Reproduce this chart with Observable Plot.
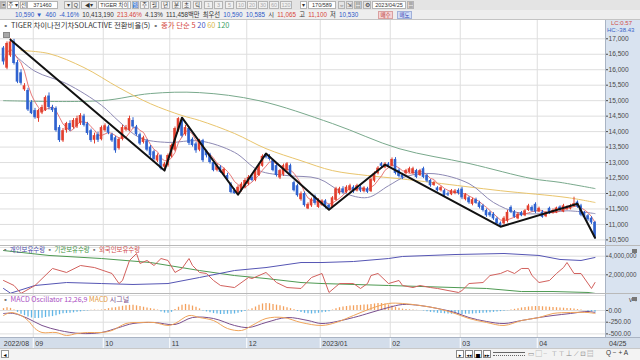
<!DOCTYPE html>
<html>
<head>
<meta charset="utf-8">
<script src="https://cdn.jsdelivr.net/npm/d3@7"></script>
<script src="https://cdn.jsdelivr.net/npm/@observablehq/plot@0.6"></script>
<style>
html,body{margin:0;padding:0;background:#fff;}
#wrap{position:relative;width:640px;height:360px;overflow:hidden;font-family:"Noto Sans CJK KR","DejaVu Sans",sans-serif;}
.abs{position:absolute;white-space:nowrap;line-height:1;}
.bx{position:absolute;top:1px;height:8px;box-sizing:border-box;border:1px solid #b4b4b4;font-size:5.5px;line-height:6px;text-align:center;color:#333;background:#f4f4f4;overflow:hidden;white-space:nowrap;font-family:"Liberation Sans","Noto Sans CJK KR",sans-serif;}
.r2{display:flex;gap:3.2px;font-family:"Liberation Sans","Noto Sans CJK KR",sans-serif;font-size:6.3px;}
svg{display:block;}
</style>
</head>
<body>
<div id="wrap"></div>
<script>
// ---------------- data ----------------
const monthStart = [0, 9, 29, 48, 70, 91, 111, 131, 153];
const monthLabel = ["2022/08", "09", "10", "11", "12", "2023/01", "02", "03", "04"];
const priceTicks = [10500, 11000, 11500, 12000, 12500, 13000, 13500, 14000, 14500, 15000, 15500, 16000, 16500, 17000];
const holdTicks = [2000000, 4000000];
const macdTicks = [0, -250, -500];

const openP = [16700,16050,16450,16900,16230,15900,15350,15330,14940,14680,14420,14600,14680,15150,14780,14750,14130,13700,14030,14260,
14130,14150,14260,14500,14250,14030,13720,13900,13740,14030,14150,13900,13800,13450,13750,14050,14030,14360,14150,13900,
13650,13700,13500,13350,13050,13220,12850,12900,13200,13400,14030,14360,13900,14100,13750,13600,13400,13710,13380,13250,
13000,12750,12850,12600,12580,12300,12090,11990,12100,12200,12300,12520,12420,12580,12880,13260,13200,13060,12900,12500,
12600,12740,12900,12350,12250,11800,12000,11500,11600,11900,11550,11620,11760,11620,11550,11780,12000,12150,12030,12100,
12200,12080,12200,12060,12150,12060,12400,12640,12960,12830,12950,12880,13100,12750,12600,12640,12680,12640,12740,12580,
12800,12580,12420,12260,12180,12090,12090,11990,11960,12000,12100,12140,11800,11860,11650,11800,11700,11600,11450,11380,
11330,11180,11040,11020,11100,11550,11400,11180,11380,11280,11450,11550,11650,11400,11400,11250,11520,11360,11380,11560,
11400,11480,11500,11580,11720,11600,11380,11280,11200,11065];
const highP = [16750,16900,17000,16980,16300,16000,15550,15400,15000,14750,14720,14850,15150,15250,14850,14800,14200,14100,14300,14350,
14420,14500,14580,14560,14300,14080,13950,13980,14180,14250,14200,13950,13850,13800,14200,14200,14500,14450,14200,13950,
13850,13750,13550,13400,13280,13250,13000,13280,13600,14150,14450,14450,14200,14150,13800,13650,13750,13750,13400,13300,
13050,12950,12900,12820,12650,12350,12150,12250,12350,12480,12580,12600,12800,12950,13250,13290,13260,13100,12950,12780,
12950,13000,12950,12400,12300,12050,12050,11700,11850,11950,11830,11800,11800,11650,11900,12200,12200,12220,12250,12300,
12250,12300,12250,12220,12200,12500,12700,12870,13000,13000,13000,13150,13160,12800,12650,12780,12850,12850,12780,12780,
12850,12620,12450,12400,12220,12230,12130,12050,12130,12130,12150,12200,12000,11900,11850,11850,11750,11650,11500,11420,
11380,11230,11080,11250,11450,11600,11450,11380,11420,11480,11650,11600,11700,11560,11450,11420,11560,11500,11560,11600,
11650,11600,11650,11880,11760,11650,11420,11320,11250,11100];
const lowP = [16150,16000,16400,16150,15550,15500,15300,14650,14550,14400,14300,14550,14650,14700,14620,13980,13650,13650,13950,14000,
14080,14100,14200,14150,13880,13650,13600,13650,13700,13980,13900,13650,13300,13400,13700,14000,14000,14100,13850,13550,
13600,13350,13150,13050,13000,12750,12740,12850,13150,13350,13980,13800,13850,13550,13500,13300,13350,13000,13150,12950,
12700,12700,12650,12550,12400,11990,11980,11960,12050,12150,12250,12380,12380,12550,12850,13120,13050,12700,12530,12450,
12550,12700,12530,12050,11880,11750,11560,11480,11550,11620,11520,11580,11500,11476,11520,11750,11950,11980,12000,12050,
12000,12050,12030,12020,12000,12030,12350,12600,12830,12800,12850,12850,12600,12500,12450,12600,12650,12600,12480,12550,
12480,12350,12200,12230,12050,12050,11900,11900,11930,11960,11950,11800,11760,11650,11600,11650,11500,11400,11230,11230,
11130,10980,10926,10980,11050,11350,11200,11150,11250,11250,11420,11400,11350,11380,11200,11220,11320,11330,11350,11420,
11380,11450,11470,11550,11520,11250,11180,11100,11000,10530];
const closeP = [16250,16850,16900,16200,15600,15560,15480,14700,14580,14450,14680,14780,15100,14780,14680,14030,13710,14030,14260,14050,
14360,14420,14520,14200,13940,13710,13870,13720,14130,14190,13950,13700,13380,13750,14130,14130,14420,14150,13900,13600,
13800,13400,13220,13100,13220,12800,12950,13230,13550,14100,14420,13850,14130,13620,13550,13380,13700,13060,13220,13000,
12740,12900,12680,12780,12450,12030,11990,12200,12300,12420,12520,12420,12740,12900,13200,13160,13100,12740,12580,12740,
12900,12960,12580,12090,11930,11990,11610,11650,11800,11680,11780,11760,11550,11520,11860,12150,12150,12030,12200,12250,
12050,12250,12080,12180,12040,12450,12650,12820,12880,12950,12880,13100,12650,12550,12500,12740,12800,12800,12520,12740,
12520,12400,12250,12350,12090,12190,11930,11950,12090,12080,12000,11860,11960,11700,11800,11680,11550,11450,11280,11280,
11180,11020,10960,11200,11390,11390,11230,11330,11280,11440,11600,11430,11400,11520,11230,11380,11360,11450,11530,11450,
11600,11560,11600,11670,11560,11300,11220,11150,11050,10590];

// zigzag pivots [candle index, price]
const zigzag = [[2,16970],[46,12740],[51,14450],[67,11960],[75,13290],[93,11476],[109,12930],[142,10926],[164,11670],[169,10570]];
// moving averages [candle index, price]
const ma20 = [[3,16500],[9,15950],[18,15550],[28,14850],[33,14330],[39,13800],[47,13650],[56,13700],[66,13330],[73,12740],[81,12580],[90,12480],[97,12030],[104,11870],[110,12250],[115,12550],[123,12640],[133,12320],[140,11710],[147,11380],[154,11350],[161,11440],[169,11350]];
const ma60 = [[5,16620],[13,16520],[23,16070],[33,15420],[42,14900],[51,14520],[56,14360],[66,13940],[75,13450],[85,13060],[94,12740],[104,12580],[113,12480],[123,12350],[142,12090],[161,11870],[169,11710]];
const ma120 = [[0,15000],[28,15000],[42,15230],[56,15260],[73,15000],[94,14260],[113,13450],[133,12970],[151,12480],[159,12360],[169,12160]];

// holdings (shares) [candle index, value]
const indiv = [[0,530000],[2,20000],[9,850000],[18,1170000],[28,1060000],[37,960000],[47,1060000],[56,1710000],[66,2460000],[75,2780000],[85,3320000],[91,3320000],[100,3430000],[110,3750000],[114,3970000],[129,4180000],[143,4290000],[153,4080000],[159,3650000],[165,3540000],[169,3860000]];
const inst = [[0,4610000],[13,4080000],[28,3750000],[42,3320000],[56,2460000],[66,1920000],[75,1600000],[85,1170000],[91,1060000],[110,850000],[129,630000],[138,530000],[148,200000],[157,200000],[167,100000],[169,0]];
const foreign = [[0,1390000],[3,850000],[5,0],[9,850000],[14,2680000],[18,2250000],[22,3000000],[26,2780000],[31,2140000],[33,1060000],[34,1390000],[36,3540000],[38,4290000],[39,3220000],[41,3540000],[43,3000000],[45,3750000],[47,3540000],[49,2250000],[51,2680000],[53,3750000],[54,3000000],[56,2250000],[58,2140000],[60,1390000],[62,850000],[66,630000],[70,1710000],[71,1600000],[75,2250000],[78,1170000],[81,630000],[85,530000],[88,1710000],[91,2140000],[93,100000],[96,1060000],[100,1060000],[102,530000],[104,1060000],[105,1920000],[107,2140000],[110,1060000],[113,1390000],[114,850000],[117,630000],[119,850000],[122,630000],[124,530000],[127,310000],[130,100000],[131,310000],[133,1060000],[137,1170000],[139,1920000],[142,2140000],[144,2460000],[146,2140000],[148,2680000],[150,2680000],[151,1920000],[153,1170000],[156,1390000],[158,2140000],[160,2780000],[161,3320000],[163,2140000],[165,2140000],[168,530000],[169,1170000]];

// MACD 12,26,9
const macdLine = [[0,-107],[2,-43],[5,-107],[7,-214],[9,-385],[11,-470],[15,-470],[18,-534],[21,-491],[24,-470],[28,-470],[31,-427],[35,-278],[39,-256],[43,-256],[47,-320],[49,-278],[53,-107],[56,-150],[60,-214],[64,-385],[68,-427],[71,-320],[75,-171],[80,-150],[85,-256],[91,-320],[95,-256],[100,-107],[105,43],[110,150],[114,150],[119,107],[124,43],[129,-64],[133,-171],[138,-256],[143,-320],[148,-214],[153,-150],[157,-64],[162,-43],[167,-43],[169,-64]];
const signalLine = [[0,-64],[3,-64],[7,-171],[11,-320],[16,-427],[22,-491],[28,-470],[33,-363],[37,-278],[43,-256],[49,-299],[54,-150],[60,-171],[66,-320],[70,-363],[75,-256],[81,-150],[87,-214],[91,-278],[100,-150],[105,-43],[110,64],[114,128],[119,107],[124,43],[129,-43],[133,-150],[138,-235],[143,-278],[148,-214],[153,-150],[157,-107],[162,-64],[167,-21],[169,-43]];
const oscVal = [40,60,45,10,-40,-80,-110,-140,-160,-170,-170,-165,-150,-140,-130,-110,-90,-70,-65,-60,
-50,-40,-30,-15,-10,5,10,5,10,20,40,55,60,75,90,100,110,110,100,85,
70,55,40,25,10,-30,-55,-60,-40,20,70,110,130,120,95,70,35,-10,-30,-50,
-65,-75,-85,-85,-80,-80,-75,-60,-40,-20,10,40,75,110,140,150,145,130,115,100,
80,60,40,15,-20,-45,-60,-70,-75,-70,-60,-50,-40,-25,10,40,60,75,85,95,
100,105,110,115,120,130,140,150,150,140,120,95,70,50,30,20,15,10,5,0,
-10,-25,-40,-50,-60,-65,-70,-75,-80,-80,-85,-85,-80,-80,-75,-70,-65,-60,-55,-50,
-40,-30,-25,-15,-5,10,25,40,55,65,75,80,85,85,80,75,70,65,60,55,
50,45,40,30,20,10,0,-15,-30,-40];

// header quote texts
const quoteTexts = [["10,590 ▼","#2f5bc8"],["460","#2f5bc8"],["-4.16%","#2f5bc8"],["10,413,190","#333"],["213.46%","#d8463c"],["4.13%","#333"],["111,458백만","#333"],["최우선","#333"],["10,590","#2f5bc8"],["10,585","#2f5bc8"],["시","#333"],["11,065","#d8463c"],["고","#333"],["11,100","#d8463c"],["저","#333"],["10,530","#2f5bc8"]];

// ---------------- build ----------------
const FONT = '"Noto Sans CJK KR","DejaVu Sans",sans-serif';
const AXFONT = '"Liberation Sans","DejaVu Sans",sans-serif';
const RED = "#e2402f", BLUE = "#2f62cf";
const XD = [-0.86, 172];
const candles = closeP.map((c, i) => ({i, o: openP[i], h: highP[i], l: lowP[i], c}));
const up = candles.filter(d => d.c >= d.o), down = candles.filter(d => d.c < d.o);
const osc = oscVal.map((v, i) => ({i, v}));
const wrap = document.getElementById("wrap");
function add(html, css, cls) {
  const d = document.createElement("div");
  d.className = cls || "abs";
  d.style.cssText = css;
  d.innerHTML = html;
  wrap.appendChild(d);
  return d;
}
const base = {width: 640, marginLeft: 0, marginRight: 35, marginTop: 0, marginBottom: 0,
  style: {background: "transparent", fontFamily: AXFONT, overflow: "visible"}};
const vgrid = Plot.ruleX(monthStart.slice(1), {x: d => d - 0.5, stroke: "#dedede"});
const axisOpt = {anchor: "right", tickSize: 2, tickPadding: 1, fontSize: 6.6, color: "#4a4a4a"};

// right axis background
add("", "left:605px;top:20px;width:35px;height:328px;background:#d9e3f0;border-left:1px solid #a9b4c4;");

// main price panel
const mainPlot = Plot.plot({...base, height: 226,
  x: {domain: XD, axis: null},
  y: {domain: [10287, 17591], axis: null},
  marks: [
    Plot.ruleY(priceTicks, {stroke: "#dedede"}),
    vgrid,
    Plot.line(ma120, {curve: "catmull-rom", stroke: "#79a98c", strokeWidth: 1}),
    Plot.line(ma60, {curve: "catmull-rom", stroke: "#e9c56d", strokeWidth: 1}),
    Plot.line(ma20, {curve: "catmull-rom", stroke: "#8d89b4", strokeWidth: 1}),
    Plot.lineY(candles, Plot.windowY({k: 5, anchor: "end"}, {x: "i", y: "c", stroke: "#e46a6a", strokeWidth: 0.9})),
    Plot.ruleX(up, {x: "i", y1: "l", y2: "h", stroke: RED}),
    Plot.ruleX(down, {x: "i", y1: "l", y2: "h", stroke: BLUE}),
    Plot.rect(up, {x1: d => d.i - 0.37, x2: d => d.i + 0.37, y1: "o", y2: "c", fill: RED}),
    Plot.rect(down, {x1: d => d.i - 0.37, x2: d => d.i + 0.37, y1: "o", y2: "c", fill: BLUE}),
    Plot.line(zigzag, {stroke: "#111", strokeWidth: 2}),
    Plot.axisY(priceTicks, {...axisOpt, tickFormat: d3.format(",")})
  ]
});
mainPlot.style.position = "absolute"; mainPlot.style.left = "0px"; mainPlot.style.top = "20px";
wrap.appendChild(mainPlot);

// holdings panel
const holdPlot = Plot.plot({...base, height: 48,
  x: {domain: XD, axis: null},
  y: {domain: [-118000, 5043000], axis: null},
  marks: [
    Plot.ruleY(holdTicks, {stroke: "#dedede"}),
    vgrid,
    Plot.line(inst, {stroke: "#4e9a52", strokeWidth: 1}),
    Plot.line(indiv, {stroke: "#5656b4", strokeWidth: 1}),
    Plot.line(foreign, {stroke: "#d2615d", strokeWidth: 1}),
    Plot.axisY(holdTicks, {...axisOpt, fontSize: 6.3, tickFormat: d3.format(",")})
  ]
});
holdPlot.style.position = "absolute"; holdPlot.style.left = "0px"; holdPlot.style.top = "246px";
wrap.appendChild(holdPlot);

// MACD panel
const macdPlot = Plot.plot({...base, height: 43,
  x: {domain: XD, axis: null},
  y: {domain: [-577, 342], axis: null},
  marks: [
    Plot.ruleY(macdTicks, {stroke: "#dedede"}),
    vgrid,
    Plot.ruleX(osc.filter(d => d.v >= 0), {x: "i", y1: 0, y2: "v", stroke: "#f3a15e", strokeWidth: 1.3}),
    Plot.ruleX(osc.filter(d => d.v < 0), {x: "i", y1: 0, y2: "v", stroke: "#62b6e6", strokeWidth: 1.3}),
    Plot.line(signalLine, {curve: "catmull-rom", stroke: "#7a4f8e", strokeWidth: 1}),
    Plot.line(macdLine, {curve: "catmull-rom", stroke: "#f0a45a", strokeWidth: 1}),
    Plot.axisY(macdTicks, {...axisOpt, tickFormat: d => d.toFixed(2)})
  ]
});
macdPlot.style.position = "absolute"; macdPlot.style.left = "0px"; macdPlot.style.top = "294px";
wrap.appendChild(macdPlot);

// panel separators
add("", "left:0;top:245px;width:640px;height:1px;background:#b9b9b9;");
add("", "left:0;top:247px;width:605px;height:1px;background:#e4e4e4;");
add("", "left:0;top:293px;width:640px;height:1px;background:#b9b9b9;");
add("", "left:0;top:295px;width:605px;height:1px;background:#e4e4e4;");

// date band
add("", "left:0;top:337px;width:640px;height:11px;background:#d3ddea;border-top:1px solid #aab4c4;box-sizing:border-box;");
const bandPlot = Plot.plot({...base, height: 10,
  x: {domain: XD, axis: null},
  y: {domain: [0, 1], axis: null},
  marks: [
    Plot.ruleX(monthStart.slice(1), {x: d => d - 0.5, stroke: "#ffffff"}),
    Plot.text(monthStart, {x: d => d - 0.5, y: 0.5, text: (d, i) => monthLabel[i], textAnchor: "start", dx: 2, fontSize: 7, fill: "#3c3c3c"})
  ]
});
bandPlot.style.position = "absolute"; bandPlot.style.left = "0px"; bandPlot.style.top = "338px";
wrap.appendChild(bandPlot);
add("04/25", "left:609px;top:340px;font-size:7px;color:#3c3c3c;font-family:" + AXFONT + ";");

// bottom bar
add("", "left:0;top:348px;width:640px;height:12px;background:#f3f3f3;border-top:1px solid #c8c8c8;box-sizing:border-box;");
add("◂", "left:1px;top:350px;width:8px;height:8px;border:1px solid #999;background:#fff;font-size:6px;line-height:7px;text-align:center;box-sizing:border-box;");
const tools = ["▸","◂◂","■","▸▸"];
tools.forEach((t, k) => add(t, `left:${456 + k * 9}px;top:350px;width:8px;height:8px;border:1px solid #888;background:#fff;font-size:5px;line-height:7px;text-align:center;box-sizing:border-box;`));
add("", "left:493px;top:352px;width:32px;height:1px;background:#666;");
add("", "left:493px;top:355px;width:32px;height:1px;border-top:1px dotted #666;");
add("▭ ▢ ╴ ⊤ ⊤ ⊥ ⟋ ⊡ ▤", "left:528px;top:350px;font-size:6.5px;color:#888;");
add("Q − + A", "left:606px;top:350px;font-size:6.5px;color:#333;font-family:" + AXFONT + ";");

// legends
add('<span style="color:#777">▪</span> TIGER 차이나전기차SOLACTIVE 전환비율(5) <span style="color:#777">▪</span> <span style="color:#d4453c">종가 단순 5</span> <span style="color:#4656c2">20</span> <span style="color:#d8b84a">60</span> <span style="color:#3f9f66">120</span>',
  "left:2px;top:21px;font-size:7.4px;color:#333;");
add("", "left:3px;top:32px;width:7px;height:6px;background:#a8a8a8;border:1px solid #888;box-sizing:border-box;");
add('LC:0.57', "left:611px;top:20px;font-size:6px;color:#d04848;font-family:" + AXFONT + ";");
add('HC:-38.43', "left:607px;top:26.5px;font-size:6px;color:#3a64c8;font-family:" + AXFONT + ";");
add('<span style="color:#777">▪</span> <span style="color:#4a4aa8">개인보유수량</span> <span style="color:#777">▪</span> <span style="color:#3f943f">기관보유수량</span> <span style="color:#777">▪</span> <span style="color:#d04c4c">외국인보유수량</span>',
  "left:2px;top:247px;font-size:6.4px;");
add('<span style="color:#777">▪</span> <span style="color:#a94cbf">MACD Oscillator 12,26,9</span> <span style="color:#e49a3c">MACD</span> <span style="color:#7a4f8e">시그널</span>',
  "left:2px;top:296px;font-size:7px;");
add("", "left:632px;top:249px;width:5px;height:4px;background:#777;");
add("", "left:632px;top:297px;width:5px;height:4px;background:#777;");

// toolbar
add("", "left:0;top:0;width:640px;height:10px;background:#e4e4e4;");
add("", "left:0;top:10px;width:640px;height:10px;background:#eeeeee;border-bottom:1px solid #c4c4c4;box-sizing:border-box;");
const row1 = [
  [0,6,"▣","#d0d0d0","#555"],[7,12,"주 ▾","#fff","#333"],[20,7,"전","#fff","#333"],[27,31,"371460","#fff","#333"],
  [64,8,"▾","#eee","#333"],[72,8,"Q","#eee","#333"],[81,16,"◀▾","#eee","#333"],[98,33,"TIGER 차이","#fff","#333"],
  [132,7,"일","#4f82d4","#fff"],[140,9,"주","#f4f4f4","#333"],[150,9,"월","#f4f4f4","#333"],[161,9,"년","#f4f4f4","#333"],
  [172,9,"분","#f4f4f4","#333"],[182,9,"초","#f4f4f4","#333"],[193,9,"틱","#f4f4f4","#333"],
  [204,9,"1","#f0f0f0","#aaa"],[214,9,"3","#f0f0f0","#aaa"],[225,9,"5","#f0f0f0","#aaa"],[236,10,"10","#f0f0f0","#aaa"],
  [247,10,"20","#f0f0f0","#aaa"],[258,10,"30","#f0f0f0","#aaa"],[269,10,"60","#f0f0f0","#aaa"],[280,12,"120","#f0f0f0","#aaa"],
  [300,7,"▾","#fff","#333"],[308,28,"170/589","#fff","#333"],[338,7,"⇔","#e4e4e4","#555"],[346,7,"⇲","#e4e4e4","#555"],
  [354,8,"▤","#e4e4e4","#333"],[363,8,"⚙","#e4e4e4","#333"],[372,34,"2023/04/25","#fff","#333"],[407,7,"▦","#fff","#333"]
];
row1.forEach(([x, w, t, bg, c]) => add(t, `left:${x}px;width:${w}px;background:${bg};color:${c};`, "bx"));
add(quoteTexts.map(([t, c]) => `<span style="color:${c}">${t}</span>`).join(""), "left:15px;top:12px;", "abs r2");
add("매수", "left:378px;top:11px;width:15px;height:8px;background:#f6d4d4;border:1px solid #d9a0a0;box-sizing:border-box;font-size:5.5px;line-height:6px;text-align:center;color:#b03030;");
add("매도", "left:397px;top:11px;width:15px;height:8px;background:#d4def6;border:1px solid #a0b0d9;box-sizing:border-box;font-size:5.5px;line-height:6px;text-align:center;color:#3040b0;");
</script>
</body>
</html>
